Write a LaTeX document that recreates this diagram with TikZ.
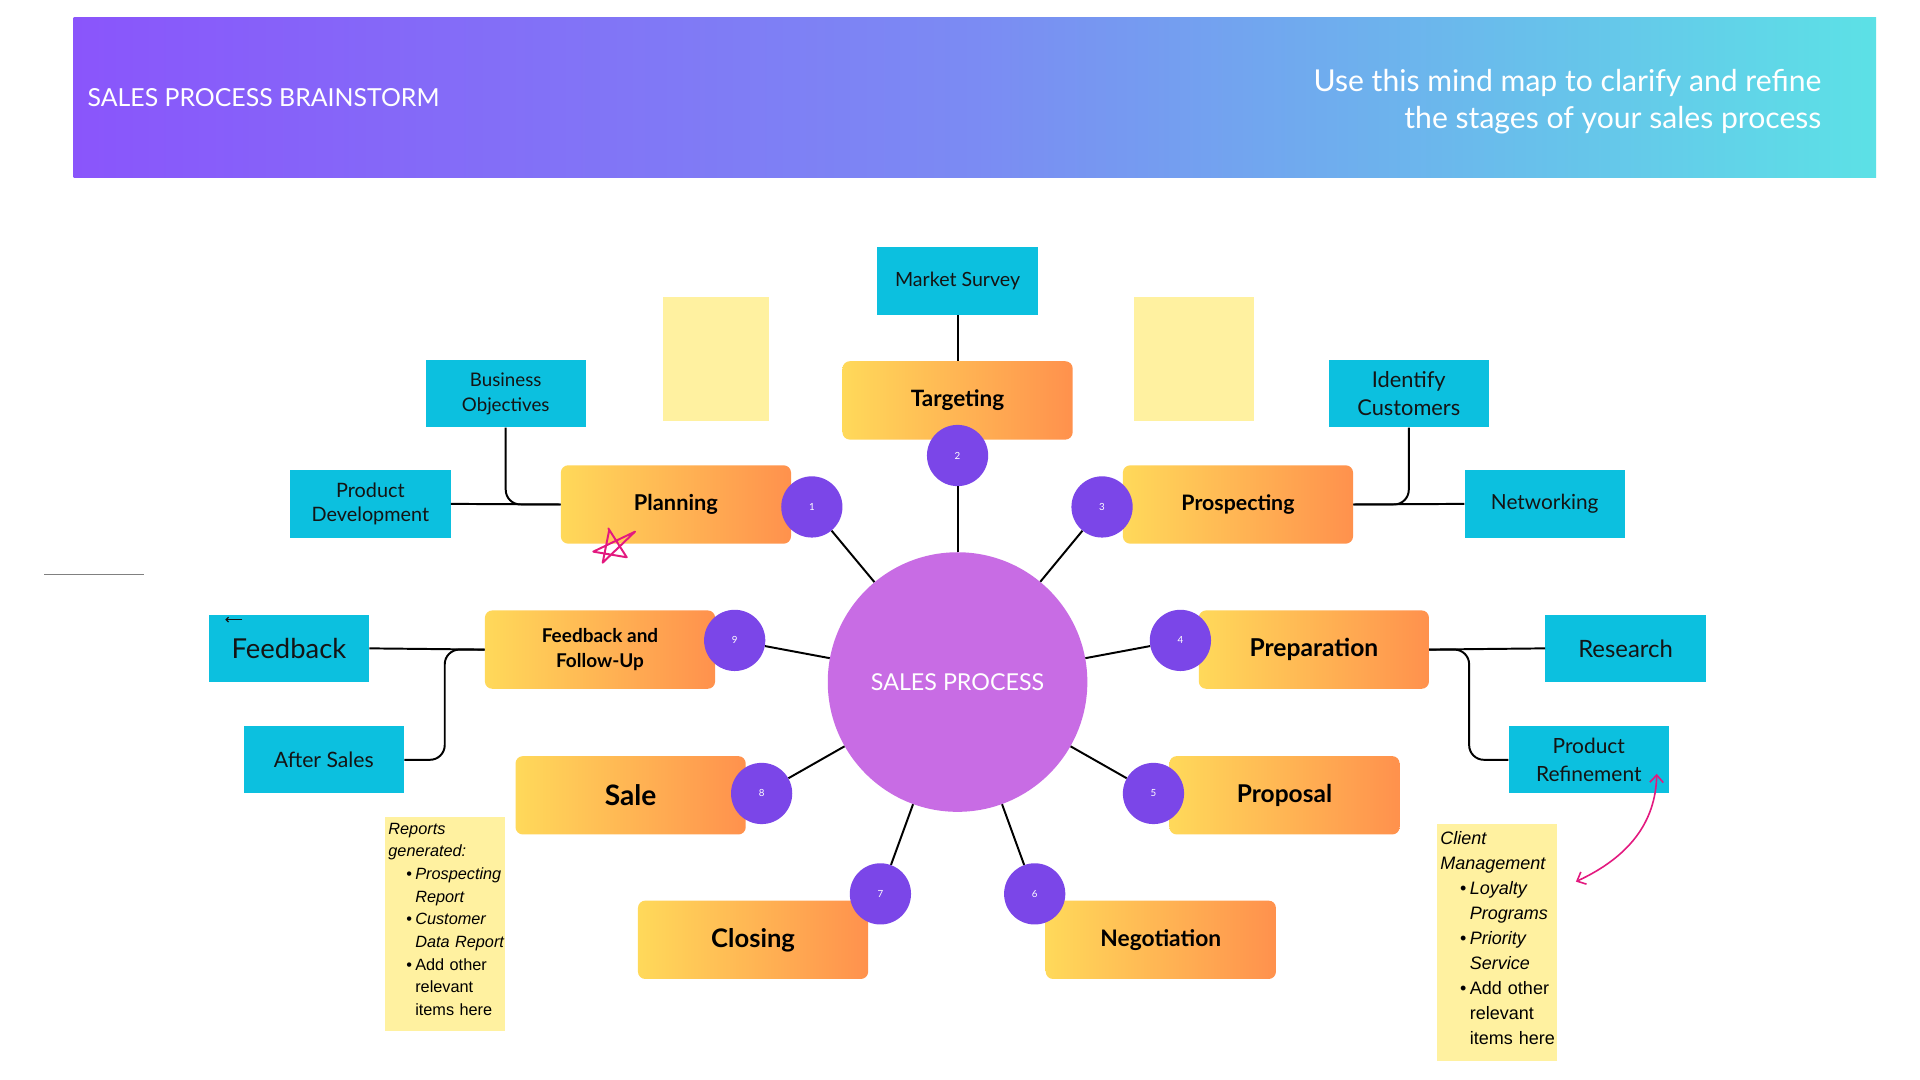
\documentclass[tikz,border=0pt]{standalone}
\usepackage{fontspec}
\setmainfont{Lato}
\newfontfamily\notefont{Liberation Sans}
\usetikzlibrary{arrows.meta}
\definecolor{hdrL}{HTML}{8A55FB}
\definecolor{hdrM}{HTML}{7B8BF3}
\definecolor{hdrR}{HTML}{5CE1E6}
\definecolor{stageL}{HTML}{FFD95A}
\definecolor{stageR}{HTML}{FF914D}
\definecolor{numc}{HTML}{7B46E8}
\definecolor{hub}{HTML}{C86CE4}
\definecolor{cyanbox}{HTML}{0CC0DF}
\definecolor{sticky}{HTML}{FFF1A0}
\definecolor{pinkink}{HTML}{E3197F}
\definecolor{ink}{HTML}{141414}
\newcommand{\fs}[2]{\fontsize{#1}{#2}\selectfont}
\newcommand{\bulA}{\hspace*{1.1em}\makebox[0.55em][l]{\textbullet}}
\newcommand{\indA}{\hspace*{1.65em}}
\begin{document}
\begin{tikzpicture}[x=1pt,y=-1pt,
  stagebox/.style={rounded corners=6pt, left color=stageL, right color=stageR,
    minimum width=188pt, minimum height=64pt, inner sep=0pt, align=center,
    text=black},
  numdot/.style={circle, fill=numc, minimum size=50pt, inner sep=0pt,
    text=white, font=\fs{8}{9}},
  cbox/.style={fill=cyanbox, minimum width=131pt, minimum height=55pt,
    inner sep=0pt, align=center, text=ink},
  stickynote/.style={fill=sticky, inner sep=0pt, anchor=north west},
  notetext/.style={anchor=north west, align=left, inner sep=0pt, text=black,
    text width=100pt},
  conn/.style={draw=black, line width=1.6pt},
  elbow/.style={conn, rounded corners=12pt},
]
\useasboundingbox (0,0) rectangle (1568,882);
\fill[white] (0,0) rectangle (1568,882);

% header
\node[minimum width=1472pt, minimum height=131pt, inner sep=0pt, anchor=north west,
  left color=hdrL, right color=hdrR, middle color=hdrM] (header) at (60,14) {};
\node[anchor=west, text=white, font=\fs{20.3}{24}] (title) at (68,80) {SALES PROCESS BRAINSTORM};
\node[anchor=east, align=right, text=white, font=\fs{24.6}{30}] (sub) at (1491,83)
  {Use this mind map to clarify and refine\\the stages of your sales process};

% sticky notes (empty)
\node[stickynote, minimum width=87pt, minimum height=102pt] (s1) at (541,242) {};
\node[stickynote, minimum width=98pt, minimum height=102pt] (s2) at (926,242) {};

% hub
\node[circle, fill=hub, minimum size=212pt, inner sep=0pt, text=white, font=\fs{19}{22}]
  (hubc) at (782,557) {SALES PROCESS};

% stages
\node[stagebox, font=\bfseries\fs{18.4}{20}] (targ) at (782,327) {Targeting};
\node[stagebox, font=\bfseries\fs{17.8}{20}] (plan) at (552,412) {Planning};
\node[stagebox, font=\bfseries\fs{17.4}{20}] (prosp) at (1011,412) {Prospecting};
\node[stagebox, font=\bfseries\fs{15.5}{20}] (ff) at (490,530.5) {Feedback and\\Follow-Up};
\node[stagebox, font=\bfseries\fs{20.1}{22}] (prep) at (1073,530.5) {Preparation};
\node[stagebox, font=\bfseries\fs{23}{24}] (sale) at (515,649.5) {Sale};
\node[stagebox, font=\bfseries\fs{20}{22}] (prop) at (1049,649.5) {Proposal};
\node[stagebox, font=\bfseries\fs{20.9}{24}] (clos) at (615,767.5) {Closing};
\node[stagebox, font=\bfseries\fs{18.6}{22}] (neg) at (948,767.5) {Negotiation};

% number dots
\node[numdot] (n1) at (663,414) {1};
\node[numdot] (n2) at (782,372) {2};
\node[numdot] (n3) at (900,414) {3};
\node[numdot] (n4) at (964,523) {4};
\node[numdot] (n5) at (942,648) {5};
\node[numdot] (n6) at (845,730) {6};
\node[numdot] (n7) at (719,730) {7};
\node[numdot] (n8) at (622,648) {8};
\node[numdot] (n9) at (600,523) {9};

\foreach \k in {1,...,9} { \draw[conn] (n\k) -- (hubc); }

% cyan boxes
\node[cbox, minimum width=132pt, font=\fs{16}{20}] (ms) at (782,229.5) {Market Survey};
\node[cbox, font=\fs{15.3}{20}] (bo) at (413,321.5) {Business\\Objectives};
\node[cbox, font=\fs{16.2}{20}] (pd) at (302.5,411.5) {Product\\Development};
\node[cbox, font=\fs{17.8}{23}] (ic) at (1150.5,321.5) {Identify\\Customers};
\node[cbox, font=\fs{17}{20}] (net) at (1261.5,411.5) {Networking};
\node[cbox, font=\fs{22.4}{24}] (fb) at (236,529.5) {Feedback};
\node[cbox, font=\fs{17.3}{20}] (as) at (264.5,620.5) {After Sales};
\node[cbox, font=\fs{19.5}{22}] (res) at (1327.5,529.5) {Research};
\node[cbox, font=\fs{17.1}{23}] (pr) at (1297.5,620.5) {Product\\Refinement};

% branch connectors
\draw[conn] (ms.south) -- (targ.north);
\draw[conn] (pd.east) -- (plan.west);
\draw[elbow] (bo.south) |- (plan.west);
\draw[conn] (net.west) -- (prosp.east);
\draw[elbow] (ic.south) |- (prosp.east);
\draw[conn] (fb.east) -- (ff.west);
\draw[elbow] (as.east) -- ++(33,0) |- (ff.west);
\draw[conn] (res.west) -- (prep.east);
\draw[elbow] (pr.west) -- ++(-32,0) |- (prep.east);

% notes with text
\node[stickynote, minimum width=98pt, minimum height=175pt] (repbg) at (314,667) {};
\node[notetext, font=\notefont\fs{13.3}{18.5}] (rep) at (317,672)
  {\textit{Reports}\\\textit{generated:}\\
   \bulA\textit{Prospecting}\\\indA\textit{Report}\\
   \bulA\textit{Customer}\\\indA\mbox{\textit{Data Report}}\\
   \bulA Add other\\\indA relevant\\\indA items here};
\node[stickynote, minimum width=98pt, minimum height=193pt] (cmbg) at (1173,673) {};
\node[notetext, font=\notefont\fs{14.7}{20.5}] (cm) at (1176,678.5)
  {\textit{Client}\\\mbox{\textit{Management}}\\
   \bulA\textit{Loyalty}\\\indA\textit{Programs}\\
   \bulA\textit{Priority}\\\indA\textit{Service}\\
   \bulA Add other\\\indA relevant\\\indA items here};

% pink annotations
\draw[pinkink, line width=1.6pt, line join=round, line cap=round]
  (496.8,431.5) -- (511.8,455.1) -- (484.5,450.5) -- (518.6,434.2) -- (492.2,459.5) -- (497.5,433);
\coordinate (pa1) at (1353,632);
\coordinate (pa2) at (1287,720);
\draw[pinkink, line width=1.3pt, {Straight Barb[length=6pt,width=11pt]}-{Straight Barb[length=6pt,width=11pt]}]
  (pa1) .. controls (1352,672) and (1330,700) .. (pa2);

% small marks
\coordinate (gl1) at (36,469);
\coordinate (gl2) at (118,469);
\draw[gray, line width=0.8pt] (gl1) -- (gl2);
\coordinate (ta1) at (198,506);
\coordinate (ta2) at (184,506);
\draw[ink, line width=1pt, -{Straight Barb[length=2pt,width=4pt]}] (ta1) -- (ta2);
\end{tikzpicture}
\end{document}
